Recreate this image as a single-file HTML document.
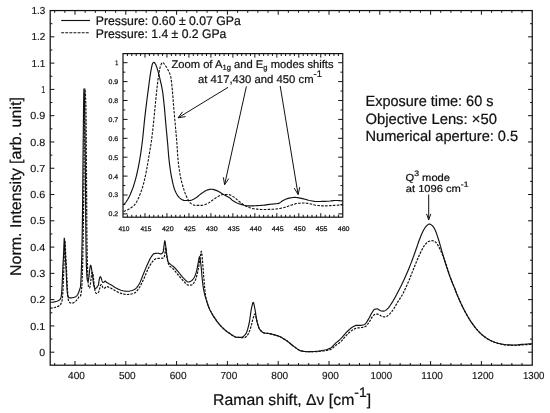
<!DOCTYPE html>
<html lang="en"><head><meta charset="utf-8"><title>Raman spectra</title>
<style>html,body{margin:0;padding:0;background:#fff;overflow:hidden}svg{display:block}svg text{stroke:#111;stroke-width:.22px}svg .il text{stroke-width:.25px}svg .tl text{stroke-width:.15px}</style>
</head><body>
<svg width="550" height="413" viewBox="0 0 550 413" font-family="Liberation Sans, Arial, Helvetica, sans-serif" fill="#111" text-rendering="geometricPrecision">
<rect x="0" y="0" width="550" height="413" fill="#ffffff"/>
<rect x="50.20" y="10.56" width="482.05" height="354.64" fill="none" stroke="#111" stroke-width="1.25"/>
<path d="M54.68,365.2 v-2.2 M54.68,10.56 v2.2 M64.84,365.2 v-2.2 M64.84,10.56 v2.2 M75.00,365.2 v-4.2 M75.00,10.56 v4.2 M85.16,365.2 v-2.2 M85.16,10.56 v2.2 M95.32,365.2 v-2.2 M95.32,10.56 v2.2 M105.48,365.2 v-2.2 M105.48,10.56 v2.2 M115.64,365.2 v-2.2 M115.64,10.56 v2.2 M125.80,365.2 v-4.2 M125.80,10.56 v4.2 M135.96,365.2 v-2.2 M135.96,10.56 v2.2 M146.12,365.2 v-2.2 M146.12,10.56 v2.2 M156.28,365.2 v-2.2 M156.28,10.56 v2.2 M166.44,365.2 v-2.2 M166.44,10.56 v2.2 M176.60,365.2 v-4.2 M176.60,10.56 v4.2 M186.76,365.2 v-2.2 M186.76,10.56 v2.2 M196.92,365.2 v-2.2 M196.92,10.56 v2.2 M207.08,365.2 v-2.2 M207.08,10.56 v2.2 M217.24,365.2 v-2.2 M217.24,10.56 v2.2 M227.40,365.2 v-4.2 M227.40,10.56 v4.2 M237.56,365.2 v-2.2 M237.56,10.56 v2.2 M247.72,365.2 v-2.2 M247.72,10.56 v2.2 M257.88,365.2 v-2.2 M257.88,10.56 v2.2 M268.04,365.2 v-2.2 M268.04,10.56 v2.2 M278.20,365.2 v-4.2 M278.20,10.56 v4.2 M288.36,365.2 v-2.2 M288.36,10.56 v2.2 M298.52,365.2 v-2.2 M298.52,10.56 v2.2 M308.68,365.2 v-2.2 M308.68,10.56 v2.2 M318.84,365.2 v-2.2 M318.84,10.56 v2.2 M329.00,365.2 v-4.2 M329.00,10.56 v4.2 M339.16,365.2 v-2.2 M339.16,10.56 v2.2 M349.32,365.2 v-2.2 M349.32,10.56 v2.2 M359.48,365.2 v-2.2 M359.48,10.56 v2.2 M369.64,365.2 v-2.2 M369.64,10.56 v2.2 M379.80,365.2 v-4.2 M379.80,10.56 v4.2 M389.96,365.2 v-2.2 M389.96,10.56 v2.2 M400.12,365.2 v-2.2 M400.12,10.56 v2.2 M410.28,365.2 v-2.2 M410.28,10.56 v2.2 M420.44,365.2 v-2.2 M420.44,10.56 v2.2 M430.60,365.2 v-4.2 M430.60,10.56 v4.2 M440.76,365.2 v-2.2 M440.76,10.56 v2.2 M450.92,365.2 v-2.2 M450.92,10.56 v2.2 M461.08,365.2 v-2.2 M461.08,10.56 v2.2 M471.24,365.2 v-2.2 M471.24,10.56 v2.2 M481.40,365.2 v-4.2 M481.40,10.56 v4.2 M491.56,365.2 v-2.2 M491.56,10.56 v2.2 M501.72,365.2 v-2.2 M501.72,10.56 v2.2 M511.88,365.2 v-2.2 M511.88,10.56 v2.2 M522.04,365.2 v-2.2 M522.04,10.56 v2.2 M50.20,352.20 h4.2 M532.25,352.20 h-4.2 M50.20,339.06 h2.2 M532.25,339.06 h-2.2 M50.20,325.92 h4.2 M532.25,325.92 h-4.2 M50.20,312.78 h2.2 M532.25,312.78 h-2.2 M50.20,299.64 h4.2 M532.25,299.64 h-4.2 M50.20,286.50 h2.2 M532.25,286.50 h-2.2 M50.20,273.36 h4.2 M532.25,273.36 h-4.2 M50.20,260.22 h2.2 M532.25,260.22 h-2.2 M50.20,247.08 h4.2 M532.25,247.08 h-4.2 M50.20,233.94 h2.2 M532.25,233.94 h-2.2 M50.20,220.80 h4.2 M532.25,220.80 h-4.2 M50.20,207.66 h2.2 M532.25,207.66 h-2.2 M50.20,194.52 h4.2 M532.25,194.52 h-4.2 M50.20,181.38 h2.2 M532.25,181.38 h-2.2 M50.20,168.24 h4.2 M532.25,168.24 h-4.2 M50.20,155.10 h2.2 M532.25,155.10 h-2.2 M50.20,141.96 h4.2 M532.25,141.96 h-4.2 M50.20,128.82 h2.2 M532.25,128.82 h-2.2 M50.20,115.68 h4.2 M532.25,115.68 h-4.2 M50.20,102.54 h2.2 M532.25,102.54 h-2.2 M50.20,89.40 h4.2 M532.25,89.40 h-4.2 M50.20,76.26 h2.2 M532.25,76.26 h-2.2 M50.20,63.12 h4.2 M532.25,63.12 h-4.2 M50.20,49.98 h2.2 M532.25,49.98 h-2.2 M50.20,36.84 h4.2 M532.25,36.84 h-4.2 M50.20,23.70 h2.2 M532.25,23.70 h-2.2" stroke="#111" stroke-width="1" fill="none"/>
<g font-size="10.2" fill="#111" class="tl">
<text x="76.50" y="379.0" text-anchor="middle" textLength="16.8" lengthAdjust="spacingAndGlyphs">400</text>
<text x="127.30" y="379.0" text-anchor="middle" textLength="16.8" lengthAdjust="spacingAndGlyphs">500</text>
<text x="178.10" y="379.0" text-anchor="middle" textLength="16.8" lengthAdjust="spacingAndGlyphs">600</text>
<text x="228.90" y="379.0" text-anchor="middle" textLength="16.8" lengthAdjust="spacingAndGlyphs">700</text>
<text x="279.70" y="379.0" text-anchor="middle" textLength="16.8" lengthAdjust="spacingAndGlyphs">800</text>
<text x="330.50" y="379.0" text-anchor="middle" textLength="16.8" lengthAdjust="spacingAndGlyphs">900</text>
<text x="381.30" y="379.0" text-anchor="middle" textLength="21.6" lengthAdjust="spacingAndGlyphs">1000</text>
<text x="432.10" y="379.0" text-anchor="middle" textLength="21.6" lengthAdjust="spacingAndGlyphs">1100</text>
<text x="482.90" y="379.0" text-anchor="middle" textLength="21.6" lengthAdjust="spacingAndGlyphs">1200</text>
<text x="533.70" y="379.0" text-anchor="middle" textLength="21.6" lengthAdjust="spacingAndGlyphs">1300</text>
<text x="45.2" y="355.80" text-anchor="end" textLength="5.9" lengthAdjust="spacingAndGlyphs">0</text>
<text x="45.2" y="329.52" text-anchor="end" textLength="15.0" lengthAdjust="spacingAndGlyphs">0.1</text>
<text x="45.2" y="303.24" text-anchor="end" textLength="15.0" lengthAdjust="spacingAndGlyphs">0.2</text>
<text x="45.2" y="276.96" text-anchor="end" textLength="15.0" lengthAdjust="spacingAndGlyphs">0.3</text>
<text x="45.2" y="250.68" text-anchor="end" textLength="15.0" lengthAdjust="spacingAndGlyphs">0.4</text>
<text x="45.2" y="224.40" text-anchor="end" textLength="15.0" lengthAdjust="spacingAndGlyphs">0.5</text>
<text x="45.2" y="198.12" text-anchor="end" textLength="15.0" lengthAdjust="spacingAndGlyphs">0.6</text>
<text x="45.2" y="171.84" text-anchor="end" textLength="15.0" lengthAdjust="spacingAndGlyphs">0.7</text>
<text x="45.2" y="145.56" text-anchor="end" textLength="15.0" lengthAdjust="spacingAndGlyphs">0.8</text>
<text x="45.2" y="119.28" text-anchor="end" textLength="15.0" lengthAdjust="spacingAndGlyphs">0.9</text>
<text x="45.2" y="93.00" text-anchor="end" textLength="4.0" lengthAdjust="spacingAndGlyphs">1</text>
<text x="45.2" y="66.72" text-anchor="end" textLength="13.8" lengthAdjust="spacingAndGlyphs">1.1</text>
<text x="45.2" y="40.44" text-anchor="end" textLength="13.8" lengthAdjust="spacingAndGlyphs">1.2</text>
<text x="45.2" y="14.16" text-anchor="end" textLength="13.8" lengthAdjust="spacingAndGlyphs">1.3</text>
</g>
<text x="292.1" y="405.1" font-size="15.6" text-anchor="middle" textLength="158" lengthAdjust="spacingAndGlyphs">Raman shift, Δν [cm<tspan font-size="13.8" dy="-8.0">-1</tspan><tspan dy="8.0">]</tspan></text>
<text transform="translate(20.8,186.6) rotate(-90)" font-size="15.6" text-anchor="middle" textLength="179" lengthAdjust="spacingAndGlyphs">Norm. Intensity [arb. unit]</text>
<path d="M50.20,302.30 L51.52,302.25 L52.83,302.12 L54.15,301.90 L55.47,301.61 L56.78,301.24 L58.10,300.80 L58.52,300.62 L58.93,300.37 L59.35,300.04 L59.77,299.61 L60.18,299.07 L60.60,298.40 L60.77,298.02 L60.93,297.46 L61.10,296.73 L61.27,295.83 L61.43,294.75 L61.60,293.50 L61.70,292.45 L61.80,290.96 L61.90,289.17 L62.00,287.16 L62.10,285.07 L62.20,283.00 L62.30,280.82 L62.40,278.39 L62.50,275.85 L62.60,273.29 L62.70,270.83 L62.80,268.60 L62.93,265.96 L63.07,263.54 L63.20,261.24 L63.33,258.95 L63.47,256.57 L63.60,254.00 L63.72,251.19 L63.83,247.81 L63.95,244.33 L64.07,241.25 L64.18,239.04 L64.30,238.20 L64.45,239.00 L64.60,241.10 L64.75,244.09 L64.90,247.52 L65.05,250.96 L65.20,254.00 L65.33,256.38 L65.47,258.76 L65.60,261.15 L65.73,263.58 L65.87,266.06 L66.00,268.60 L66.12,270.95 L66.23,273.42 L66.35,275.93 L66.47,278.42 L66.58,280.80 L66.70,283.00 L66.80,284.84 L66.90,286.73 L67.00,288.55 L67.10,290.19 L67.20,291.54 L67.30,292.50 L67.47,293.64 L67.63,294.63 L67.80,295.46 L67.97,296.13 L68.13,296.61 L68.30,296.90 L68.58,297.19 L68.87,297.44 L69.15,297.64 L69.43,297.78 L69.72,297.87 L70.00,297.90 L70.68,297.88 L71.37,297.82 L72.05,297.72 L72.73,297.60 L73.42,297.46 L74.10,297.30 L74.58,297.16 L75.07,296.96 L75.55,296.71 L76.03,296.40 L76.52,296.03 L77.00,295.60 L77.30,295.24 L77.60,294.75 L77.90,294.16 L78.20,293.48 L78.50,292.76 L78.80,292.00 L80.48,287.13 L80.56,286.17 L80.65,285.06 L80.73,283.80 L80.81,282.42 L80.90,280.93 L80.98,279.34 L81.07,277.35 L81.17,275.13 L81.26,272.67 L81.36,270.02 L81.45,267.18 L81.55,264.18 L81.62,261.83 L81.69,259.30 L81.76,256.58 L81.83,253.68 L81.89,250.61 L81.96,247.36 L82.04,243.79 L82.11,239.96 L82.18,235.86 L82.25,231.48 L82.32,226.83 L82.39,221.91 L82.44,218.52 L82.49,214.90 L82.53,211.06 L82.58,207.00 L82.63,202.74 L82.67,198.27 L82.72,193.38 L82.76,187.98 L82.81,182.29 L82.86,176.53 L82.90,170.94 L82.95,165.74 L83.02,158.48 L83.09,151.48 L83.16,144.72 L83.23,138.14 L83.30,131.72 L83.37,125.41 L83.41,121.18 L83.46,116.91 L83.51,112.72 L83.55,108.72 L83.60,105.03 L83.65,101.78 L83.68,99.48 L83.72,97.20 L83.75,95.05 L83.79,93.15 L83.82,91.65 L83.86,90.65 L83.88,90.19 L83.90,89.77 L83.92,89.40 L83.95,89.11 L83.97,88.91 L83.99,88.84 L84.03,88.94 L84.06,89.21 L84.09,89.61 L84.12,90.11 L84.15,90.65 L84.18,91.21 L84.23,92.35 L84.28,93.85 L84.34,95.63 L84.39,97.60 L84.44,99.67 L84.49,101.78 L84.54,103.72 L84.59,105.83 L84.63,108.06 L84.68,110.40 L84.72,112.81 L84.77,115.26 L84.81,117.28 L84.85,119.30 L84.89,121.38 L84.93,123.60 L84.96,126.03 L85.00,128.75 L85.04,131.41 L85.07,134.45 L85.10,137.79 L85.13,141.36 L85.17,145.09 L85.20,148.91 L85.23,152.98 L85.27,157.40 L85.30,162.03 L85.33,166.75 L85.36,171.41 L85.40,175.89 L85.43,180.15 L85.46,184.31 L85.50,188.43 L85.53,192.55 L85.56,196.74 L85.59,201.06 L85.62,204.86 L85.65,208.89 L85.68,212.99 L85.70,216.96 L85.73,220.65 L85.76,223.86 L85.80,228.68 L85.85,233.13 L85.90,237.22 L85.94,240.95 L85.99,244.33 L86.04,247.36 L86.11,251.65 L86.18,255.65 L86.25,259.31 L86.32,262.55 L86.39,265.31 L86.46,267.52 L86.56,269.88 L86.65,271.99 L86.74,273.83 L86.84,275.40 L86.93,276.68 L87.02,277.67 L87.11,278.50 L87.21,279.28 L87.30,279.97 L87.39,280.51 L87.49,280.88 L87.58,281.01 L87.67,281.01 L87.77,281.01 L87.86,281.01 L87.96,281.01 L88.05,281.01 L88.15,281.01 L88.24,280.91 L88.33,280.63 L88.42,280.22 L88.52,279.72 L88.61,279.18 L88.70,278.64 L88.84,277.68 L88.99,276.44 L89.13,275.04 L89.27,273.59 L89.41,272.21 L89.55,271.00 L89.67,270.08 L89.78,269.14 L89.90,268.25 L90.01,267.43 L90.13,266.76 L90.25,266.27 L90.32,266.03 L90.39,265.81 L90.46,265.61 L90.53,265.44 L90.60,265.33 L90.67,265.30 L90.77,265.37 L90.86,265.56 L90.95,265.85 L91.05,266.20 L91.14,266.58 L91.23,266.96 L91.37,267.65 L91.51,268.53 L91.65,269.53 L91.80,270.60 L91.94,271.67 L92.08,272.66 L92.20,273.47 L92.33,274.23 L92.46,274.99 L92.58,275.79 L92.71,276.67 L92.83,277.67 L92.88,278.10 L92.92,278.60 L92.97,279.14 L93.01,279.68 L93.05,280.17 L93.10,280.59 L93.24,281.70 L93.38,282.73 L93.52,283.65 L93.66,284.47 L93.79,285.17 L93.93,285.74 L94.12,286.41 L94.31,287.06 L94.50,287.63 L94.68,288.10 L94.87,288.40 L95.06,288.52 L95.29,288.49 L95.53,288.41 L95.76,288.30 L95.99,288.16 L96.23,288.00 L96.46,287.82 L96.65,287.64 L96.84,287.38 L97.02,287.08 L97.21,286.75 L97.40,286.44 L97.59,286.15 L97.73,285.98 L97.87,285.84 L98.01,285.70 L98.15,285.53 L98.29,285.32 L98.43,285.04 L98.53,284.67 L98.62,284.04 L98.71,283.26 L98.81,282.43 L98.90,281.65 L98.99,281.01 L99.11,280.32 L99.23,279.65 L99.34,279.02 L99.46,278.46 L99.58,278.00 L99.70,277.67 L99.81,277.42 L99.93,277.20 L100.05,277.00 L100.16,276.84 L100.28,276.73 L100.39,276.70 L100.54,276.77 L100.68,276.98 L100.82,277.27 L100.96,277.63 L101.10,278.00 L101.24,278.37 L101.38,278.75 L101.52,279.22 L101.66,279.71 L101.80,280.21 L101.94,280.65 L102.08,281.01 L102.22,281.32 L102.36,281.64 L102.50,281.93 L102.64,282.17 L102.78,282.34 L102.92,282.40 L103.11,282.39 L103.30,282.36 L103.48,282.31 L103.67,282.26 L103.86,282.19 L104.05,282.12 L104.23,281.99 L104.42,281.77 L104.61,281.51 L104.80,281.26 L104.99,281.08 L105.17,281.01 L105.30,281.03 L105.42,281.09 L105.55,281.20 L105.68,281.33 L105.80,281.50 L105.93,281.70 L106.50,282.20 L106.83,282.43 L107.17,282.66 L107.50,282.88 L107.83,283.09 L108.17,283.30 L108.50,283.50 L108.97,283.76 L109.43,284.01 L109.90,284.25 L110.37,284.49 L110.83,284.74 L111.30,285.00 L111.88,285.36 L112.47,285.75 L113.05,286.15 L113.63,286.56 L114.22,286.94 L114.80,287.30 L115.42,287.65 L116.03,287.99 L116.65,288.31 L117.27,288.62 L117.88,288.92 L118.50,289.20 L118.92,289.39 L119.33,289.58 L119.75,289.76 L120.17,289.93 L120.58,290.08 L121.00,290.20 L122.05,290.47 L123.10,290.73 L124.15,290.95 L125.20,291.14 L126.25,291.26 L127.30,291.30 L128.50,291.24 L129.70,291.06 L130.90,290.79 L132.10,290.43 L133.30,289.99 L134.50,289.50 L135.23,289.06 L135.97,288.42 L136.70,287.60 L137.43,286.65 L138.17,285.60 L138.90,284.50 L139.63,283.21 L140.37,281.63 L141.10,279.85 L141.83,277.98 L142.57,276.09 L143.30,274.30 L144.02,272.59 L144.73,270.85 L145.45,269.09 L146.17,267.37 L146.88,265.69 L147.60,264.10 L148.22,262.76 L148.83,261.41 L149.45,260.10 L150.07,258.87 L150.68,257.76 L151.30,256.80 L151.78,256.11 L152.27,255.41 L152.75,254.77 L153.23,254.22 L153.72,253.81 L154.20,253.60 L154.80,253.48 L155.40,253.39 L156.00,253.31 L156.60,253.25 L157.20,253.21 L157.80,253.20 L158.28,253.25 L158.77,253.38 L159.25,253.55 L159.73,253.72 L160.22,253.85 L160.70,253.90 L161.07,253.86 L161.43,253.74 L161.80,253.54 L162.17,253.27 L162.53,252.92 L162.90,252.50 L163.10,251.96 L163.30,250.94 L163.50,249.59 L163.70,248.08 L163.90,246.57 L164.10,245.20 L164.22,244.37 L164.33,243.42 L164.45,242.46 L164.57,241.62 L164.68,241.03 L164.80,240.80 L164.93,241.00 L165.07,241.54 L165.20,242.33 L165.33,243.27 L165.47,244.26 L165.60,245.20 L165.77,246.47 L165.93,247.97 L166.10,249.57 L166.27,251.18 L166.43,252.66 L166.60,253.90 L166.87,255.63 L167.13,257.30 L167.40,258.84 L167.67,260.18 L167.93,261.22 L168.20,261.90 L168.65,262.60 L169.10,263.13 L169.55,263.54 L170.00,263.89 L170.45,264.23 L170.90,264.60 L171.50,265.11 L172.10,265.58 L172.70,266.03 L173.30,266.48 L173.90,266.97 L174.50,267.50 L175.35,268.37 L176.20,269.33 L177.05,270.36 L177.90,271.42 L178.75,272.48 L179.60,273.50 L180.33,274.38 L181.07,275.28 L181.80,276.18 L182.53,277.05 L183.27,277.87 L184.00,278.60 L184.73,279.32 L185.47,280.09 L186.20,280.81 L186.93,281.42 L187.67,281.84 L188.40,282.00 L188.75,281.97 L189.10,281.89 L189.45,281.77 L189.80,281.63 L190.15,281.47 L190.50,281.30 L191.02,281.02 L191.53,280.66 L192.05,280.23 L192.57,279.73 L193.08,279.15 L193.60,278.50 L194.08,277.75 L194.57,276.79 L195.05,275.65 L195.53,274.34 L196.02,272.88 L196.50,271.30 L196.82,270.06 L197.13,268.56 L197.45,266.88 L197.77,265.13 L198.08,263.41 L198.40,261.80 L198.58,260.81 L198.77,259.70 L198.95,258.59 L199.13,257.63 L199.32,256.96 L199.50,256.70 L199.73,257.05 L199.97,258.00 L200.20,259.40 L200.43,261.09 L200.67,262.91 L200.90,264.70 L201.15,266.88 L201.40,269.55 L201.65,272.49 L201.90,275.48 L202.15,278.29 L202.40,280.70 L202.62,282.51 L202.83,284.25 L203.05,285.89 L203.27,287.40 L203.48,288.78 L203.70,290.00 L204.07,291.80 L204.43,293.41 L204.80,294.87 L205.17,296.21 L205.53,297.47 L205.90,298.70 L206.50,300.67 L207.10,302.54 L207.70,304.32 L208.30,305.98 L208.90,307.51 L209.50,308.90 L210.48,310.96 L211.47,312.83 L212.45,314.56 L213.43,316.16 L214.42,317.67 L215.40,319.10 L216.60,320.78 L217.80,322.37 L219.00,323.87 L220.20,325.28 L221.40,326.59 L222.60,327.80 L223.82,328.94 L225.03,330.01 L226.25,331.01 L227.47,331.95 L228.68,332.81 L229.90,333.60 L231.12,334.40 L232.33,335.23 L233.55,336.01 L234.77,336.68 L235.98,337.13 L237.20,337.30 L237.92,337.30 L238.63,337.30 L239.35,337.30 L240.07,337.30 L240.78,337.30 L241.50,337.30 L242.23,337.17 L242.97,336.79 L243.70,336.20 L244.43,335.45 L245.17,334.57 L245.90,333.60 L246.43,332.66 L246.97,331.35 L247.50,329.72 L248.03,327.83 L248.57,325.74 L249.10,323.50 L249.48,321.52 L249.87,319.03 L250.25,316.27 L250.63,313.50 L251.02,310.96 L251.40,308.90 L251.70,307.47 L252.00,306.00 L252.30,304.63 L252.60,303.48 L252.90,302.69 L253.20,302.40 L253.48,302.70 L253.77,303.50 L254.05,304.66 L254.33,306.04 L254.62,307.50 L254.90,308.90 L255.22,310.61 L255.53,312.64 L255.85,314.83 L256.17,316.98 L256.48,318.93 L256.80,320.50 L257.28,322.46 L257.77,324.28 L258.25,325.92 L258.73,327.33 L259.22,328.48 L259.70,329.30 L260.43,330.23 L261.17,331.03 L261.90,331.71 L262.63,332.25 L263.37,332.65 L264.10,332.90 L264.95,333.07 L265.80,333.20 L266.65,333.29 L267.50,333.38 L268.35,333.47 L269.20,333.60 L269.72,333.70 L270.23,333.80 L270.75,333.92 L271.27,334.04 L271.78,334.17 L272.30,334.30 L273.50,334.61 L274.70,334.93 L275.90,335.27 L277.10,335.64 L278.30,336.04 L279.50,336.50 L280.72,337.04 L281.93,337.68 L283.15,338.40 L284.37,339.17 L285.58,339.98 L286.80,340.80 L288.02,341.69 L289.23,342.66 L290.45,343.69 L291.67,344.72 L292.88,345.71 L294.10,346.60 L295.32,347.48 L296.53,348.39 L297.75,349.27 L298.97,350.05 L300.18,350.65 L301.40,351.00 L302.60,351.19 L303.80,351.36 L305.00,351.50 L306.20,351.61 L307.40,351.68 L308.60,351.70 L309.82,351.69 L311.03,351.66 L312.25,351.61 L313.47,351.55 L314.68,351.48 L315.90,351.40 L317.12,351.30 L318.33,351.15 L319.55,350.97 L320.77,350.77 L321.98,350.54 L323.20,350.30 L324.42,350.05 L325.63,349.77 L326.85,349.45 L328.07,349.08 L329.28,348.63 L330.50,348.10 L331.25,347.63 L332.00,346.97 L332.75,346.20 L333.50,345.37 L334.25,344.55 L335.00,343.80 L335.97,342.94 L336.93,342.11 L337.90,341.30 L338.87,340.47 L339.83,339.62 L340.80,338.70 L341.77,337.69 L342.73,336.59 L343.70,335.44 L344.67,334.30 L345.63,333.20 L346.60,332.20 L347.58,331.23 L348.57,330.27 L349.55,329.34 L350.53,328.48 L351.52,327.72 L352.50,327.10 L353.22,326.69 L353.93,326.28 L354.65,325.90 L355.37,325.59 L356.08,325.38 L356.80,325.30 L357.53,325.30 L358.27,325.30 L359.00,325.30 L359.73,325.30 L360.47,325.30 L361.20,325.30 L361.80,325.26 L362.40,325.15 L363.00,324.97 L363.60,324.75 L364.20,324.49 L364.80,324.20 L365.42,323.74 L366.03,323.04 L366.65,322.15 L367.27,321.15 L367.88,320.11 L368.50,319.10 L369.10,318.08 L369.70,316.95 L370.30,315.76 L370.90,314.59 L371.50,313.48 L372.10,312.50 L372.52,311.85 L372.93,311.17 L373.35,310.52 L373.77,309.96 L374.18,309.53 L374.60,309.30 L375.03,309.19 L375.47,309.09 L375.90,309.01 L376.33,308.95 L376.77,308.91 L377.20,308.90 L377.80,309.03 L378.40,309.35 L379.00,309.77 L379.60,310.22 L380.20,310.59 L380.80,310.80 L381.28,310.88 L381.77,310.95 L382.25,311.01 L382.73,311.06 L383.22,311.09 L383.70,311.10 L384.32,311.01 L384.93,310.75 L385.55,310.38 L386.17,309.92 L386.78,309.41 L387.40,308.90 L388.12,308.21 L388.83,307.36 L389.55,306.38 L390.27,305.31 L390.98,304.20 L391.70,303.10 L392.50,301.84 L393.30,300.50 L394.10,299.10 L394.90,297.66 L395.70,296.18 L396.50,294.70 L397.67,292.51 L398.83,290.28 L400.00,287.99 L401.17,285.65 L402.33,283.26 L403.50,280.80 L404.48,278.68 L405.47,276.52 L406.45,274.30 L407.43,272.02 L408.42,269.69 L409.40,267.30 L410.37,264.87 L411.33,262.35 L412.30,259.76 L413.27,257.12 L414.23,254.47 L415.20,251.80 L416.00,249.54 L416.80,247.20 L417.60,244.84 L418.40,242.51 L419.20,240.28 L420.00,238.20 L420.65,236.58 L421.30,234.99 L421.95,233.45 L422.60,232.00 L423.25,230.67 L423.90,229.50 L424.38,228.71 L424.87,227.95 L425.35,227.25 L425.83,226.61 L426.32,226.05 L426.80,225.60 L427.22,225.25 L427.63,224.91 L428.05,224.59 L428.47,224.34 L428.88,224.16 L429.30,224.10 L429.78,224.16 L430.27,224.32 L430.75,224.57 L431.23,224.88 L431.72,225.23 L432.20,225.60 L432.65,226.01 L433.10,226.54 L433.55,227.18 L434.00,227.89 L434.45,228.67 L434.90,229.50 L435.48,230.73 L436.07,232.19 L436.65,233.83 L437.23,235.58 L437.82,237.39 L438.40,239.20 L439.05,241.28 L439.70,243.50 L440.35,245.80 L441.00,248.13 L441.65,250.45 L442.30,252.70 L442.93,254.85 L443.57,256.99 L444.20,259.12 L444.83,261.22 L445.47,263.29 L446.10,265.30 L446.75,267.33 L447.40,269.34 L448.05,271.31 L448.70,273.23 L449.35,275.10 L450.00,276.90 L450.65,278.62 L451.30,280.26 L451.95,281.86 L452.60,283.43 L453.25,285.01 L453.90,286.60 L454.67,288.52 L455.43,290.47 L456.20,292.42 L456.97,294.34 L457.73,296.21 L458.50,298.00 L459.63,300.54 L460.77,303.02 L461.90,305.42 L463.03,307.74 L464.17,309.97 L465.30,312.10 L466.42,314.12 L467.53,316.07 L468.65,317.95 L469.77,319.75 L470.88,321.47 L472.00,323.10 L473.13,324.69 L474.27,326.22 L475.40,327.69 L476.53,329.08 L477.67,330.39 L478.80,331.60 L479.93,332.74 L481.07,333.82 L482.20,334.84 L483.33,335.80 L484.47,336.69 L485.60,337.50 L486.73,338.25 L487.87,338.96 L489.00,339.63 L490.13,340.24 L491.27,340.80 L492.40,341.30 L493.53,341.75 L494.67,342.17 L495.80,342.55 L496.93,342.90 L498.07,343.22 L499.20,343.50 L500.32,343.76 L501.43,344.01 L502.55,344.24 L503.67,344.44 L504.78,344.60 L505.90,344.70 L507.32,344.78 L508.73,344.85 L510.15,344.91 L511.57,344.96 L512.98,344.99 L514.40,345.00 L515.82,344.96 L517.23,344.86 L518.65,344.72 L520.07,344.56 L521.48,344.42 L522.90,344.30 L524.46,344.20 L526.02,344.11 L527.58,344.02 L529.13,343.94 L530.69,343.86 L532.25,343.80" fill="none" stroke="#111" stroke-width="1.15" stroke-linejoin="round"/>
<path d="M50.20,308.10 L51.75,308.03 L53.30,307.83 L54.85,307.48 L56.40,307.00 L57.95,306.37 L59.50,305.60 L59.88,305.33 L60.27,304.92 L60.65,304.35 L61.03,303.62 L61.42,302.71 L61.80,301.60 L61.97,300.89 L62.13,299.84 L62.30,298.49 L62.47,296.87 L62.63,295.03 L62.80,293.00 L62.93,290.97 L63.07,288.36 L63.20,285.31 L63.33,281.97 L63.47,278.49 L63.60,275.00 L63.72,271.76 L63.83,268.19 L63.95,264.46 L64.07,260.73 L64.18,257.19 L64.30,254.00 L64.40,251.27 L64.50,248.33 L64.60,245.50 L64.70,243.10 L64.80,241.43 L64.90,240.80 L65.03,241.45 L65.17,243.18 L65.30,245.64 L65.43,248.50 L65.57,251.40 L65.70,254.00 L65.83,256.37 L65.97,258.78 L66.10,261.25 L66.23,263.78 L66.37,266.36 L66.50,269.00 L66.62,271.43 L66.73,273.98 L66.85,276.59 L66.97,279.17 L67.08,281.67 L67.20,284.00 L67.32,286.29 L67.43,288.62 L67.55,290.89 L67.67,292.95 L67.78,294.70 L67.90,296.00 L68.07,297.44 L68.23,298.75 L68.40,299.89 L68.57,300.81 L68.73,301.46 L68.90,301.80 L69.40,302.25 L69.90,302.61 L70.40,302.88 L70.90,303.06 L71.40,303.17 L71.90,303.20 L72.47,303.13 L73.03,302.94 L73.60,302.65 L74.17,302.30 L74.73,301.91 L75.30,301.50 L75.67,301.20 L76.03,300.83 L76.40,300.42 L76.77,299.96 L77.13,299.49 L77.50,299.00 L77.72,298.70 L77.93,298.39 L78.15,298.06 L78.37,297.72 L78.58,297.36 L78.80,297.00 L80.48,296.16 L80.59,295.79 L80.70,295.33 L80.80,294.79 L80.91,294.19 L81.02,293.53 L81.13,292.83 L81.25,292.02 L81.36,291.12 L81.48,290.12 L81.59,288.97 L81.71,287.66 L81.83,286.15 L81.92,284.62 L82.01,282.71 L82.11,280.48 L82.20,278.02 L82.30,275.39 L82.39,272.66 L82.46,270.57 L82.53,268.31 L82.60,265.88 L82.67,263.28 L82.74,260.49 L82.81,257.51 L82.88,254.24 L82.95,250.63 L83.02,246.73 L83.09,242.59 L83.16,238.29 L83.23,233.87 L83.28,230.78 L83.32,227.48 L83.37,224.06 L83.41,220.58 L83.46,217.10 L83.51,213.71 L83.54,211.41 L83.57,209.19 L83.61,206.98 L83.64,204.70 L83.67,202.29 L83.70,199.66 L83.74,196.25 L83.78,192.53 L83.82,188.56 L83.86,184.42 L83.90,180.17 L83.94,175.89 L83.98,170.57 L84.03,164.96 L84.08,159.20 L84.12,153.41 L84.17,147.71 L84.21,142.24 L84.26,136.82 L84.31,131.32 L84.35,125.91 L84.40,120.76 L84.45,116.04 L84.49,111.93 L84.54,108.19 L84.59,104.59 L84.63,101.25 L84.68,98.28 L84.72,95.82 L84.77,93.99 L84.81,92.76 L84.85,91.60 L84.89,90.56 L84.93,89.73 L84.96,89.18 L85.00,88.98 L85.06,89.19 L85.12,89.74 L85.17,90.54 L85.23,91.49 L85.28,92.48 L85.34,93.43 L85.40,94.36 L85.45,95.35 L85.51,96.42 L85.56,97.57 L85.62,98.79 L85.68,100.11 L85.72,101.20 L85.77,102.31 L85.82,103.51 L85.86,104.90 L85.91,106.56 L85.95,108.59 L85.98,110.34 L86.01,112.70 L86.04,115.53 L86.07,118.69 L86.10,122.03 L86.13,125.41 L86.16,129.30 L86.19,133.66 L86.22,138.33 L86.25,143.12 L86.28,147.87 L86.31,152.39 L86.35,156.97 L86.38,161.47 L86.41,165.93 L86.45,170.35 L86.48,174.78 L86.51,179.22 L86.54,182.58 L86.56,185.85 L86.59,189.13 L86.61,192.47 L86.64,195.96 L86.66,199.66 L86.69,203.53 L86.71,207.86 L86.73,212.36 L86.75,216.72 L86.78,220.65 L86.80,223.86 L86.85,229.01 L86.89,233.57 L86.94,237.60 L86.99,241.19 L87.03,244.42 L87.08,247.36 L87.14,250.83 L87.20,253.96 L87.26,256.81 L87.32,259.43 L87.38,261.87 L87.44,264.18 L87.51,266.84 L87.58,269.37 L87.65,271.74 L87.72,273.94 L87.80,275.93 L87.87,277.67 L87.94,279.23 L88.01,280.73 L88.08,282.12 L88.15,283.33 L88.22,284.33 L88.29,285.04 L88.38,285.76 L88.47,286.42 L88.56,286.99 L88.66,287.43 L88.75,287.72 L88.84,287.82 L88.96,287.82 L89.08,287.82 L89.20,287.82 L89.31,287.82 L89.43,287.82 L89.55,287.82 L89.67,287.70 L89.78,287.38 L89.90,286.89 L90.01,286.31 L90.13,285.68 L90.25,285.04 L90.36,284.31 L90.48,283.42 L90.60,282.42 L90.72,281.36 L90.84,280.32 L90.95,279.34 L91.05,278.58 L91.14,277.79 L91.23,277.01 L91.32,276.27 L91.42,275.60 L91.51,275.03 L91.60,274.50 L91.70,273.96 L91.79,273.46 L91.89,273.05 L91.98,272.77 L92.08,272.66 L92.17,272.66 L92.26,272.66 L92.36,272.66 L92.45,272.66 L92.54,272.66 L92.63,272.66 L92.74,272.81 L92.84,273.22 L92.94,273.81 L93.04,274.51 L93.14,275.27 L93.24,276.00 L93.35,276.92 L93.47,278.00 L93.59,279.18 L93.70,280.40 L93.82,281.59 L93.93,282.68 L94.07,283.94 L94.22,285.23 L94.36,286.48 L94.50,287.65 L94.64,288.67 L94.78,289.49 L94.92,290.18 L95.06,290.82 L95.20,291.39 L95.34,291.89 L95.49,292.28 L95.63,292.55 L95.81,292.81 L96.00,293.04 L96.18,293.24 L96.37,293.39 L96.56,293.49 L96.74,293.52 L96.93,293.51 L97.12,293.46 L97.30,293.40 L97.49,293.31 L97.68,293.22 L97.87,293.10 L98.05,292.94 L98.24,292.70 L98.43,292.39 L98.62,292.02 L98.80,291.61 L98.99,291.16 L99.13,290.74 L99.27,290.21 L99.41,289.61 L99.56,288.99 L99.70,288.37 L99.84,287.82 L99.98,287.29 L100.12,286.73 L100.25,286.18 L100.39,285.69 L100.53,285.30 L100.67,285.04 L100.79,284.90 L100.91,284.76 L101.03,284.65 L101.14,284.56 L101.26,284.50 L101.38,284.48 L101.50,284.53 L101.61,284.64 L101.73,284.81 L101.84,285.01 L101.96,285.24 L102.08,285.46 L102.22,285.79 L102.36,286.22 L102.50,286.70 L102.64,287.16 L102.78,287.56 L102.92,287.82 L103.06,288.00 L103.20,288.16 L103.35,288.30 L103.49,288.42 L103.63,288.49 L103.77,288.52 L103.96,288.48 L104.14,288.39 L104.33,288.26 L104.52,288.11 L104.71,287.96 L104.89,287.82 L105.07,287.71 L105.24,287.60 L105.41,287.48 L105.58,287.36 L105.75,287.25 L105.93,287.13 L106.90,286.50 L107.28,286.64 L107.67,286.78 L108.05,286.93 L108.43,287.08 L108.82,287.24 L109.20,287.40 L109.55,287.55 L109.90,287.71 L110.25,287.88 L110.60,288.05 L110.95,288.22 L111.30,288.40 L111.88,288.71 L112.47,289.04 L113.05,289.38 L113.63,289.73 L114.22,290.07 L114.80,290.40 L115.42,290.75 L116.03,291.11 L116.65,291.46 L117.27,291.80 L117.88,292.12 L118.50,292.40 L118.92,292.58 L119.33,292.74 L119.75,292.90 L120.17,293.05 L120.58,293.18 L121.00,293.30 L122.05,293.58 L123.10,293.85 L124.15,294.11 L125.20,294.31 L126.25,294.45 L127.30,294.50 L128.50,294.45 L129.70,294.31 L130.90,294.08 L132.10,293.78 L133.30,293.42 L134.50,293.00 L135.23,292.60 L135.97,291.99 L136.70,291.20 L137.43,290.29 L138.17,289.31 L138.90,288.30 L139.38,287.58 L139.87,286.75 L140.35,285.85 L140.83,284.91 L141.32,283.95 L141.80,283.00 L142.17,282.28 L142.53,281.55 L142.90,280.81 L143.27,280.05 L143.63,279.28 L144.00,278.50 L144.73,276.84 L145.47,275.07 L146.20,273.26 L146.93,271.48 L147.67,269.80 L148.40,268.30 L149.12,266.95 L149.83,265.63 L150.55,264.38 L151.27,263.23 L151.98,262.23 L152.70,261.40 L153.32,260.77 L153.93,260.15 L154.55,259.59 L155.17,259.12 L155.78,258.78 L156.40,258.60 L157.08,258.52 L157.77,258.47 L158.45,258.42 L159.13,258.39 L159.82,258.35 L160.50,258.30 L161.02,258.26 L161.53,258.23 L162.05,258.20 L162.57,258.16 L163.08,258.09 L163.60,258.00 L163.80,257.83 L164.00,257.44 L164.20,256.87 L164.40,256.16 L164.60,255.36 L164.80,254.50 L164.95,253.53 L165.10,252.11 L165.25,250.51 L165.40,249.03 L165.55,247.93 L165.70,247.50 L165.85,247.88 L166.00,248.86 L166.15,250.24 L166.30,251.78 L166.45,253.27 L166.60,254.50 L166.77,255.63 L166.93,256.75 L167.10,257.83 L167.27,258.83 L167.43,259.73 L167.60,260.50 L167.87,261.58 L168.13,262.58 L168.40,263.49 L168.67,264.28 L168.93,264.92 L169.20,265.40 L169.73,266.07 L170.27,266.58 L170.80,266.98 L171.33,267.35 L171.87,267.73 L172.40,268.20 L173.37,269.21 L174.33,270.32 L175.30,271.49 L176.27,272.68 L177.23,273.86 L178.20,275.00 L179.17,276.12 L180.13,277.26 L181.10,278.39 L182.07,279.49 L183.03,280.53 L184.00,281.50 L184.73,282.26 L185.47,283.08 L186.20,283.88 L186.93,284.55 L187.67,285.02 L188.40,285.20 L188.92,285.19 L189.43,285.18 L189.95,285.15 L190.47,285.11 L190.98,285.06 L191.50,285.00 L192.10,284.78 L192.70,284.31 L193.30,283.61 L193.90,282.75 L194.50,281.76 L195.10,280.70 L195.58,279.63 L196.07,278.23 L196.55,276.56 L197.03,274.67 L197.52,272.63 L198.00,270.50 L198.37,268.69 L198.73,266.61 L199.10,264.36 L199.47,262.02 L199.83,259.70 L200.20,257.50 L200.38,256.31 L200.57,254.95 L200.75,253.61 L200.93,252.44 L201.12,251.61 L201.30,251.30 L201.55,251.92 L201.80,253.58 L202.05,255.98 L202.30,258.84 L202.55,261.84 L202.80,264.70 L202.97,266.65 L203.13,268.84 L203.30,271.16 L203.47,273.50 L203.63,275.75 L203.80,277.80 L204.12,281.48 L204.43,285.16 L204.75,288.68 L205.07,291.88 L205.38,294.61 L205.70,296.70 L206.00,298.21 L206.30,299.50 L206.60,300.62 L206.90,301.62 L207.20,302.57 L207.50,303.50 L207.83,304.53 L208.17,305.51 L208.50,306.44 L208.83,307.32 L209.17,308.14 L209.50,308.90 L210.48,310.95 L211.47,312.83 L212.45,314.56 L213.43,316.16 L214.42,317.67 L215.40,319.10 L216.60,320.78 L217.80,322.37 L219.00,323.87 L220.20,325.28 L221.40,326.59 L222.60,327.80 L223.82,328.93 L225.03,330.00 L226.25,331.00 L227.47,331.93 L228.68,332.80 L229.90,333.60 L231.12,334.40 L232.33,335.24 L233.55,336.03 L234.77,336.70 L235.98,337.18 L237.20,337.40 L238.42,337.46 L239.63,337.51 L240.85,337.55 L242.07,337.58 L243.28,337.59 L244.50,337.60 L245.10,337.46 L245.70,337.09 L246.30,336.53 L246.90,335.83 L247.50,335.04 L248.10,334.20 L248.58,333.39 L249.07,332.36 L249.55,331.13 L250.03,329.77 L250.52,328.31 L251.00,326.80 L251.37,325.50 L251.73,323.97 L252.10,322.34 L252.47,320.72 L252.83,319.24 L253.20,318.00 L253.48,317.13 L253.77,316.22 L254.05,315.38 L254.33,314.67 L254.62,314.18 L254.90,314.00 L255.10,314.17 L255.30,314.62 L255.50,315.28 L255.70,316.05 L255.90,316.85 L256.10,317.60 L256.33,318.50 L256.57,319.51 L256.80,320.58 L257.03,321.65 L257.27,322.64 L257.50,323.50 L257.87,324.70 L258.23,325.86 L258.60,326.94 L258.97,327.90 L259.33,328.70 L259.70,329.30 L260.43,330.22 L261.17,331.02 L261.90,331.70 L262.63,332.24 L263.37,332.65 L264.10,332.90 L264.95,333.07 L265.80,333.20 L266.65,333.29 L267.50,333.38 L268.35,333.47 L269.20,333.60 L269.72,333.70 L270.23,333.80 L270.75,333.92 L271.27,334.04 L271.78,334.17 L272.30,334.30 L273.50,334.61 L274.70,334.93 L275.90,335.27 L277.10,335.64 L278.30,336.04 L279.50,336.50 L280.72,337.04 L281.93,337.68 L283.15,338.40 L284.37,339.17 L285.58,339.98 L286.80,340.80 L288.02,341.69 L289.23,342.66 L290.45,343.69 L291.67,344.72 L292.88,345.71 L294.10,346.60 L295.32,347.48 L296.53,348.39 L297.75,349.27 L298.97,350.05 L300.18,350.65 L301.40,351.00 L302.60,351.19 L303.80,351.36 L305.00,351.50 L306.20,351.61 L307.40,351.68 L308.60,351.70 L309.82,351.70 L311.03,351.69 L312.25,351.67 L313.47,351.65 L314.68,351.63 L315.90,351.60 L317.12,351.56 L318.33,351.48 L319.55,351.39 L320.77,351.27 L321.98,351.14 L323.20,351.00 L324.42,350.85 L325.63,350.67 L326.85,350.45 L328.07,350.19 L329.28,349.88 L330.50,349.50 L331.25,349.14 L332.00,348.62 L332.75,347.99 L333.50,347.31 L334.25,346.62 L335.00,346.00 L335.97,345.28 L336.93,344.59 L337.90,343.90 L338.87,343.19 L339.83,342.43 L340.80,341.60 L341.77,340.64 L342.73,339.56 L343.70,338.40 L344.67,337.24 L345.63,336.12 L346.60,335.10 L347.58,334.13 L348.57,333.18 L349.55,332.25 L350.53,331.40 L351.52,330.64 L352.50,330.00 L353.22,329.59 L353.93,329.20 L354.65,328.84 L355.37,328.53 L356.08,328.28 L356.80,328.10 L357.65,327.96 L358.50,327.87 L359.35,327.79 L360.20,327.72 L361.05,327.63 L361.90,327.50 L362.50,327.39 L363.10,327.25 L363.70,327.09 L364.30,326.90 L364.90,326.67 L365.50,326.40 L366.12,325.98 L366.73,325.37 L367.35,324.61 L367.97,323.76 L368.58,322.87 L369.20,322.00 L369.80,321.08 L370.40,320.04 L371.00,318.94 L371.60,317.88 L372.20,316.94 L372.80,316.20 L373.28,315.70 L373.77,315.19 L374.25,314.73 L374.73,314.35 L375.22,314.09 L375.70,314.00 L376.18,314.02 L376.67,314.06 L377.15,314.12 L377.63,314.20 L378.12,314.30 L378.60,314.40 L379.22,314.63 L379.83,315.00 L380.45,315.45 L381.07,315.90 L381.68,316.27 L382.30,316.50 L382.78,316.60 L383.27,316.70 L383.75,316.78 L384.23,316.84 L384.72,316.88 L385.20,316.90 L385.80,316.80 L386.40,316.54 L387.00,316.16 L387.60,315.69 L388.20,315.19 L388.80,314.70 L389.53,314.06 L390.27,313.31 L391.00,312.47 L391.73,311.56 L392.47,310.60 L393.20,309.60 L393.92,308.55 L394.63,307.38 L395.35,306.14 L396.07,304.87 L396.78,303.61 L397.50,302.40 L398.30,301.12 L399.10,299.88 L399.90,298.66 L400.70,297.40 L401.50,296.10 L402.30,294.70 L403.32,292.79 L404.33,290.75 L405.35,288.61 L406.37,286.40 L407.38,284.12 L408.40,281.80 L409.37,279.51 L410.33,277.11 L411.30,274.64 L412.27,272.15 L413.23,269.69 L414.20,267.30 L415.17,264.94 L416.13,262.57 L417.10,260.22 L418.07,257.94 L419.03,255.75 L420.00,253.70 L420.80,252.06 L421.60,250.42 L422.40,248.84 L423.20,247.38 L424.00,246.08 L424.80,245.00 L425.45,244.24 L426.10,243.51 L426.75,242.85 L427.40,242.27 L428.05,241.81 L428.70,241.50 L429.28,241.29 L429.87,241.11 L430.45,240.94 L431.03,240.81 L431.62,240.73 L432.20,240.70 L432.75,240.75 L433.30,240.90 L433.85,241.13 L434.40,241.42 L434.95,241.75 L435.50,242.10 L436.15,242.66 L436.80,243.46 L437.45,244.44 L438.10,245.54 L438.75,246.71 L439.40,247.90 L440.03,249.12 L440.67,250.47 L441.30,251.93 L441.93,253.45 L442.57,255.02 L443.20,256.60 L443.77,258.03 L444.33,259.51 L444.90,261.03 L445.47,262.59 L446.03,264.18 L446.60,265.80 L447.22,267.64 L447.83,269.57 L448.45,271.55 L449.07,273.51 L449.68,275.41 L450.30,277.20 L450.93,278.91 L451.57,280.54 L452.20,282.12 L452.83,283.67 L453.47,285.23 L454.10,286.80 L454.85,288.71 L455.60,290.64 L456.35,292.57 L457.10,294.47 L457.85,296.33 L458.60,298.10 L459.72,300.64 L460.83,303.13 L461.95,305.53 L463.07,307.86 L464.18,310.08 L465.30,312.20 L466.42,314.22 L467.53,316.18 L468.65,318.06 L469.77,319.85 L470.88,321.57 L472.00,323.20 L473.13,324.79 L474.27,326.32 L475.40,327.79 L476.53,329.18 L477.67,330.49 L478.80,331.70 L479.93,332.84 L481.07,333.92 L482.20,334.94 L483.33,335.90 L484.47,336.79 L485.60,337.60 L486.73,338.35 L487.87,339.06 L489.00,339.72 L490.13,340.33 L491.27,340.89 L492.40,341.40 L493.53,341.86 L494.67,342.30 L495.80,342.70 L496.93,343.07 L498.07,343.40 L499.20,343.70 L500.32,343.98 L501.43,344.24 L502.55,344.49 L503.67,344.71 L504.78,344.88 L505.90,345.00 L507.32,345.11 L508.73,345.20 L510.15,345.28 L511.57,345.35 L512.98,345.39 L514.40,345.40 L515.82,345.37 L517.23,345.28 L518.65,345.16 L520.07,345.03 L521.48,344.90 L522.90,344.80 L524.46,344.71 L526.02,344.62 L527.58,344.53 L529.13,344.45 L530.69,344.37 L532.25,344.30" fill="none" stroke="#111" stroke-width="1.2" stroke-dasharray="2.4 1.2" stroke-linejoin="round"/>
<path d="M61.2,20.5 H90" stroke="#111" stroke-width="1.15"/>
<path d="M61.2,32.7 H89" stroke="#111" stroke-width="1.15" stroke-dasharray="2.9 1.2"/>
<text x="95.8" y="24.8" font-size="12.5" textLength="145" lengthAdjust="spacingAndGlyphs">Pressure: 0.60 ± 0.07 GPa</text>
<text x="95.8" y="37.5" font-size="12.5" textLength="130.5" lengthAdjust="spacingAndGlyphs">Pressure: 1.4 ± 0.2 GPa</text>
<text x="365.5" y="106.1" font-size="14.9" textLength="128" lengthAdjust="spacingAndGlyphs">Exposure time: 60 s</text>
<text x="365.5" y="123.5" font-size="14.9" textLength="131.4" lengthAdjust="spacingAndGlyphs">Objective Lens: ×50</text>
<text x="365.5" y="141.0" font-size="14.9" textLength="152.7" lengthAdjust="spacingAndGlyphs">Numerical aperture: 0.5</text>
<text x="405.5" y="180.9" font-size="10.1" textLength="44.5" lengthAdjust="spacingAndGlyphs">Q<tspan font-size="7.8" dy="-4.8">3</tspan><tspan dy="4.8"> mode</tspan></text>
<text x="405.8" y="191.6" font-size="10.1" textLength="62.7" lengthAdjust="spacingAndGlyphs">at 1096 cm<tspan font-size="7.8" dy="-4.8">-1</tspan></text>
<path d="M428.70,194.50 L428.70,219.80 M426.55,213.88 L428.70,219.80 L430.85,213.88" fill="none" stroke="#111" stroke-width="1.0" stroke-linejoin="miter"/>
<rect x="123.00" y="53.60" width="219.75" height="163.60" fill="#ffffff" stroke="#111" stroke-width="1.2"/>
<path d="M127.39,217.2 v-2.4 M127.39,53.6 v2.4 M131.79,217.2 v-2.4 M131.79,53.6 v2.4 M136.19,217.2 v-2.4 M136.19,53.6 v2.4 M140.58,217.2 v-2.4 M140.58,53.6 v2.4 M144.97,217.2 v-4.0 M144.97,53.6 v4.0 M149.37,217.2 v-2.4 M149.37,53.6 v2.4 M153.76,217.2 v-2.4 M153.76,53.6 v2.4 M158.16,217.2 v-2.4 M158.16,53.6 v2.4 M162.56,217.2 v-2.4 M162.56,53.6 v2.4 M166.95,217.2 v-4.0 M166.95,53.6 v4.0 M171.34,217.2 v-2.4 M171.34,53.6 v2.4 M175.74,217.2 v-2.4 M175.74,53.6 v2.4 M180.13,217.2 v-2.4 M180.13,53.6 v2.4 M184.53,217.2 v-2.4 M184.53,53.6 v2.4 M188.93,217.2 v-4.0 M188.93,53.6 v4.0 M193.32,217.2 v-2.4 M193.32,53.6 v2.4 M197.71,217.2 v-2.4 M197.71,53.6 v2.4 M202.11,217.2 v-2.4 M202.11,53.6 v2.4 M206.50,217.2 v-2.4 M206.50,53.6 v2.4 M210.90,217.2 v-4.0 M210.90,53.6 v4.0 M215.29,217.2 v-2.4 M215.29,53.6 v2.4 M219.69,217.2 v-2.4 M219.69,53.6 v2.4 M224.08,217.2 v-2.4 M224.08,53.6 v2.4 M228.48,217.2 v-2.4 M228.48,53.6 v2.4 M232.88,217.2 v-4.0 M232.88,53.6 v4.0 M237.27,217.2 v-2.4 M237.27,53.6 v2.4 M241.66,217.2 v-2.4 M241.66,53.6 v2.4 M246.06,217.2 v-2.4 M246.06,53.6 v2.4 M250.45,217.2 v-2.4 M250.45,53.6 v2.4 M254.85,217.2 v-4.0 M254.85,53.6 v4.0 M259.25,217.2 v-2.4 M259.25,53.6 v2.4 M263.64,217.2 v-2.4 M263.64,53.6 v2.4 M268.03,217.2 v-2.4 M268.03,53.6 v2.4 M272.43,217.2 v-2.4 M272.43,53.6 v2.4 M276.82,217.2 v-4.0 M276.82,53.6 v4.0 M281.22,217.2 v-2.4 M281.22,53.6 v2.4 M285.62,217.2 v-2.4 M285.62,53.6 v2.4 M290.01,217.2 v-2.4 M290.01,53.6 v2.4 M294.40,217.2 v-2.4 M294.40,53.6 v2.4 M298.80,217.2 v-4.0 M298.80,53.6 v4.0 M303.19,217.2 v-2.4 M303.19,53.6 v2.4 M307.59,217.2 v-2.4 M307.59,53.6 v2.4 M311.99,217.2 v-2.4 M311.99,53.6 v2.4 M316.38,217.2 v-2.4 M316.38,53.6 v2.4 M320.77,217.2 v-4.0 M320.77,53.6 v4.0 M325.17,217.2 v-2.4 M325.17,53.6 v2.4 M329.56,217.2 v-2.4 M329.56,53.6 v2.4 M333.96,217.2 v-2.4 M333.96,53.6 v2.4 M338.36,217.2 v-2.4 M338.36,53.6 v2.4 M123.00,213.90 h4.5 M342.75,213.90 h-4.5 M123.00,204.45 h2.3 M342.75,204.45 h-2.3 M123.00,195.00 h4.5 M342.75,195.00 h-4.5 M123.00,185.55 h2.3 M342.75,185.55 h-2.3 M123.00,176.10 h4.5 M342.75,176.10 h-4.5 M123.00,166.65 h2.3 M342.75,166.65 h-2.3 M123.00,157.20 h4.5 M342.75,157.20 h-4.5 M123.00,147.75 h2.3 M342.75,147.75 h-2.3 M123.00,138.30 h4.5 M342.75,138.30 h-4.5 M123.00,128.85 h2.3 M342.75,128.85 h-2.3 M123.00,119.40 h4.5 M342.75,119.40 h-4.5 M123.00,109.95 h2.3 M342.75,109.95 h-2.3 M123.00,100.50 h4.5 M342.75,100.50 h-4.5 M123.00,91.05 h2.3 M342.75,91.05 h-2.3 M123.00,81.60 h4.5 M342.75,81.60 h-4.5 M123.00,72.15 h2.3 M342.75,72.15 h-2.3 M123.00,62.70 h4.5 M342.75,62.70 h-4.5" stroke="#111" stroke-width="1" fill="none"/>
<g font-size="6.7" fill="#222" class="il">
<text x="123.90" y="230.6" text-anchor="middle" textLength="11.0" lengthAdjust="spacingAndGlyphs">410</text>
<text x="145.88" y="230.6" text-anchor="middle" textLength="11.0" lengthAdjust="spacingAndGlyphs">415</text>
<text x="167.85" y="230.6" text-anchor="middle" textLength="11.8" lengthAdjust="spacingAndGlyphs">420</text>
<text x="189.83" y="230.6" text-anchor="middle" textLength="11.8" lengthAdjust="spacingAndGlyphs">425</text>
<text x="211.80" y="230.6" text-anchor="middle" textLength="11.8" lengthAdjust="spacingAndGlyphs">430</text>
<text x="233.78" y="230.6" text-anchor="middle" textLength="11.8" lengthAdjust="spacingAndGlyphs">435</text>
<text x="255.75" y="230.6" text-anchor="middle" textLength="11.8" lengthAdjust="spacingAndGlyphs">440</text>
<text x="277.72" y="230.6" text-anchor="middle" textLength="11.8" lengthAdjust="spacingAndGlyphs">445</text>
<text x="299.70" y="230.6" text-anchor="middle" textLength="11.8" lengthAdjust="spacingAndGlyphs">450</text>
<text x="321.67" y="230.6" text-anchor="middle" textLength="11.8" lengthAdjust="spacingAndGlyphs">455</text>
<text x="343.65" y="230.6" text-anchor="middle" textLength="11.8" lengthAdjust="spacingAndGlyphs">460</text>
<text x="118.2" y="216.30" text-anchor="end" textLength="9.7" lengthAdjust="spacingAndGlyphs">0.2</text>
<text x="118.2" y="197.40" text-anchor="end" textLength="9.7" lengthAdjust="spacingAndGlyphs">0.3</text>
<text x="118.2" y="178.50" text-anchor="end" textLength="9.7" lengthAdjust="spacingAndGlyphs">0.4</text>
<text x="118.2" y="159.60" text-anchor="end" textLength="9.7" lengthAdjust="spacingAndGlyphs">0.5</text>
<text x="118.2" y="140.70" text-anchor="end" textLength="9.7" lengthAdjust="spacingAndGlyphs">0.6</text>
<text x="118.2" y="121.80" text-anchor="end" textLength="9.7" lengthAdjust="spacingAndGlyphs">0.7</text>
<text x="118.2" y="102.90" text-anchor="end" textLength="9.7" lengthAdjust="spacingAndGlyphs">0.8</text>
<text x="118.2" y="84.00" text-anchor="end" textLength="9.7" lengthAdjust="spacingAndGlyphs">0.9</text>
<text x="118.2" y="65.10" text-anchor="end" textLength="3.0" lengthAdjust="spacingAndGlyphs">1</text>
</g>
<path d="M123.50,204.90 L124.22,204.21 L124.93,203.41 L125.65,202.51 L126.37,201.51 L127.08,200.44 L127.80,199.30 L128.62,197.87 L129.43,196.27 L130.25,194.51 L131.07,192.60 L131.88,190.56 L132.70,188.40 L133.30,186.71 L133.90,184.89 L134.50,182.93 L135.10,180.85 L135.70,178.64 L136.30,176.30 L136.92,173.74 L137.53,170.98 L138.15,168.03 L138.77,164.88 L139.38,161.54 L140.00,158.00 L140.40,155.56 L140.80,152.95 L141.20,150.19 L141.60,147.28 L142.00,144.21 L142.40,141.00 L142.80,137.48 L143.20,133.59 L143.60,129.50 L144.00,125.36 L144.40,121.34 L144.80,117.60 L145.40,112.38 L146.00,107.35 L146.60,102.48 L147.20,97.75 L147.80,93.14 L148.40,88.60 L148.80,85.56 L149.20,82.48 L149.60,79.47 L150.00,76.59 L150.40,73.94 L150.80,71.60 L151.10,69.95 L151.40,68.31 L151.70,66.76 L152.00,65.40 L152.30,64.32 L152.60,63.60 L152.80,63.27 L153.00,62.97 L153.20,62.70 L153.40,62.49 L153.60,62.35 L153.80,62.30 L154.07,62.37 L154.33,62.56 L154.60,62.85 L154.87,63.21 L155.13,63.60 L155.40,64.00 L155.85,64.82 L156.30,65.90 L156.75,67.18 L157.20,68.59 L157.65,70.09 L158.10,71.60 L158.50,73.00 L158.90,74.51 L159.30,76.12 L159.70,77.81 L160.10,79.54 L160.50,81.30 L160.83,82.75 L161.17,84.20 L161.50,85.70 L161.83,87.29 L162.17,89.04 L162.50,91.00 L162.78,92.92 L163.07,95.10 L163.35,97.50 L163.63,100.07 L163.92,102.75 L164.20,105.50 L164.48,108.42 L164.77,111.60 L165.05,114.93 L165.33,118.33 L165.62,121.68 L165.90,124.90 L166.18,127.97 L166.47,130.96 L166.75,133.92 L167.03,136.88 L167.32,139.89 L167.60,143.00 L167.83,145.73 L168.07,148.64 L168.30,151.58 L168.53,154.44 L168.77,157.09 L169.00,159.40 L169.40,162.86 L169.80,166.07 L170.20,169.01 L170.60,171.69 L171.00,174.12 L171.40,176.30 L172.02,179.38 L172.63,182.26 L173.25,184.89 L173.87,187.22 L174.48,189.21 L175.10,190.80 L175.90,192.50 L176.70,194.01 L177.50,195.34 L178.30,196.47 L179.10,197.39 L179.90,198.10 L180.70,198.70 L181.50,199.26 L182.30,199.75 L183.10,200.15 L183.90,200.41 L184.70,200.50 L185.52,200.50 L186.33,200.50 L187.15,200.50 L187.97,200.50 L188.78,200.50 L189.60,200.50 L190.40,200.43 L191.20,200.23 L192.00,199.93 L192.80,199.58 L193.60,199.19 L194.40,198.80 L195.62,198.10 L196.83,197.21 L198.05,196.21 L199.27,195.17 L200.48,194.17 L201.70,193.30 L202.70,192.64 L203.70,191.97 L204.70,191.32 L205.70,190.74 L206.70,190.25 L207.70,189.90 L208.32,189.73 L208.93,189.57 L209.55,189.42 L210.17,189.31 L210.78,189.23 L211.40,189.20 L212.20,189.25 L213.00,189.39 L213.80,189.60 L214.60,189.85 L215.40,190.12 L216.20,190.40 L217.42,190.89 L218.63,191.53 L219.85,192.25 L221.07,193.02 L222.28,193.78 L223.50,194.50 L224.58,195.08 L225.67,195.62 L226.75,196.17 L227.83,196.74 L228.92,197.38 L230.00,198.10 L230.38,198.41 L230.77,198.77 L231.15,199.16 L231.53,199.54 L231.92,199.90 L232.30,200.20 L233.50,201.00 L234.70,201.74 L235.90,202.40 L237.10,202.99 L238.30,203.49 L239.50,203.90 L241.12,204.39 L242.73,204.85 L244.35,205.26 L245.97,205.60 L247.58,205.82 L249.20,205.90 L251.22,205.88 L253.23,205.83 L255.25,205.75 L257.27,205.64 L259.28,205.53 L261.30,205.40 L262.92,205.27 L264.53,205.08 L266.15,204.86 L267.77,204.63 L269.38,204.40 L271.00,204.20 L272.22,204.08 L273.43,203.97 L274.65,203.87 L275.87,203.76 L277.08,203.60 L278.30,203.40 L279.10,203.13 L279.90,202.68 L280.70,202.12 L281.50,201.52 L282.30,200.96 L283.10,200.50 L284.12,200.01 L285.13,199.52 L286.15,199.07 L287.17,198.67 L288.18,198.34 L289.20,198.10 L290.20,197.92 L291.20,197.76 L292.20,197.62 L293.20,197.50 L294.20,197.43 L295.20,197.40 L296.42,197.45 L297.63,197.60 L298.85,197.82 L300.07,198.07 L301.28,198.34 L302.50,198.60 L303.70,198.88 L304.90,199.21 L306.10,199.57 L307.30,199.92 L308.50,200.24 L309.70,200.50 L310.92,200.73 L312.13,200.95 L313.35,201.16 L314.57,201.34 L315.78,201.46 L317.00,201.50 L318.62,201.49 L320.23,201.47 L321.85,201.44 L323.47,201.40 L325.08,201.35 L326.70,201.30 L328.32,201.20 L329.93,201.05 L331.55,200.86 L333.17,200.68 L334.78,200.55 L336.40,200.50 L337.48,200.52 L338.57,200.56 L339.65,200.64 L340.73,200.73 L341.82,200.86 L342.90,201.00" fill="none" stroke="#111" stroke-width="1.15" stroke-linejoin="round"/>
<path d="M123.50,211.40 L124.43,211.13 L125.37,210.80 L126.30,210.41 L127.23,209.98 L128.17,209.51 L129.10,209.00 L130.10,208.42 L131.10,207.77 L132.10,207.05 L133.10,206.22 L134.10,205.28 L135.10,204.20 L135.92,203.10 L136.73,201.72 L137.55,200.12 L138.37,198.35 L139.18,196.46 L140.00,194.50 L140.60,192.99 L141.20,191.37 L141.80,189.62 L142.40,187.75 L143.00,185.74 L143.60,183.60 L144.20,181.25 L144.80,178.65 L145.40,175.84 L146.00,172.87 L146.60,169.78 L147.20,166.60 L147.60,164.37 L148.00,162.00 L148.40,159.54 L148.80,157.04 L149.20,154.54 L149.60,152.10 L149.88,150.45 L150.17,148.85 L150.45,147.26 L150.73,145.62 L151.02,143.89 L151.30,142.00 L151.63,139.55 L151.97,136.87 L152.30,134.01 L152.63,131.03 L152.97,127.98 L153.30,124.90 L153.70,121.07 L154.10,117.04 L154.50,112.90 L154.90,108.73 L155.30,104.63 L155.70,100.70 L156.10,96.81 L156.50,92.85 L156.90,88.96 L157.30,85.25 L157.70,81.86 L158.10,78.90 L158.50,76.22 L158.90,73.63 L159.30,71.22 L159.70,69.09 L160.10,67.32 L160.50,66.00 L160.83,65.12 L161.17,64.28 L161.50,63.54 L161.83,62.94 L162.17,62.54 L162.50,62.40 L162.98,62.55 L163.47,62.95 L163.95,63.52 L164.43,64.20 L164.92,64.92 L165.40,65.60 L165.88,66.26 L166.37,66.98 L166.85,67.75 L167.33,68.57 L167.82,69.46 L168.30,70.40 L168.70,71.19 L169.10,71.98 L169.50,72.85 L169.90,73.85 L170.30,75.04 L170.70,76.50 L170.95,77.76 L171.20,79.46 L171.45,81.49 L171.70,83.76 L171.95,86.17 L172.20,88.60 L172.47,91.39 L172.73,94.53 L173.00,97.89 L173.27,101.34 L173.53,104.75 L173.80,108.00 L174.08,111.29 L174.37,114.53 L174.65,117.74 L174.93,120.92 L175.22,124.10 L175.50,127.30 L175.72,129.71 L175.93,132.07 L176.15,134.42 L176.37,136.83 L176.58,139.34 L176.80,142.00 L177.00,144.78 L177.20,147.90 L177.40,151.13 L177.60,154.27 L177.80,157.10 L178.00,159.40 L178.40,163.11 L178.80,166.38 L179.20,169.28 L179.60,171.86 L180.00,174.18 L180.40,176.30 L180.92,178.79 L181.43,181.05 L181.95,183.10 L182.47,184.98 L182.98,186.74 L183.50,188.40 L184.12,190.31 L184.73,192.13 L185.35,193.84 L185.97,195.42 L186.58,196.85 L187.20,198.10 L187.80,199.22 L188.40,200.30 L189.00,201.30 L189.60,202.17 L190.20,202.89 L190.80,203.40 L191.60,203.92 L192.40,204.39 L193.20,204.80 L194.00,205.12 L194.80,205.33 L195.60,205.40 L196.62,205.40 L197.63,205.40 L198.65,205.40 L199.67,205.40 L200.68,205.40 L201.70,205.40 L202.70,205.31 L203.70,205.08 L204.70,204.73 L205.70,204.31 L206.70,203.86 L207.70,203.40 L208.72,202.87 L209.73,202.23 L210.75,201.51 L211.77,200.76 L212.78,200.01 L213.80,199.30 L214.60,198.75 L215.40,198.19 L216.20,197.63 L217.00,197.09 L217.80,196.61 L218.60,196.20 L219.42,195.82 L220.23,195.43 L221.05,195.07 L221.87,194.78 L222.68,194.57 L223.50,194.50 L224.30,194.50 L225.10,194.50 L225.90,194.50 L226.70,194.50 L227.50,194.50 L228.30,194.50 L229.17,194.61 L230.03,194.90 L230.90,195.32 L231.77,195.83 L232.63,196.37 L233.50,196.90 L234.50,197.56 L235.50,198.34 L236.50,199.19 L237.50,200.06 L238.50,200.92 L239.50,201.70 L240.72,202.61 L241.93,203.54 L243.15,204.44 L244.37,205.28 L245.58,206.01 L246.80,206.60 L248.02,207.09 L249.23,207.55 L250.45,207.97 L251.67,208.32 L252.88,208.61 L254.10,208.80 L255.70,208.99 L257.30,209.15 L258.90,209.29 L260.50,209.40 L262.10,209.47 L263.70,209.50 L265.32,209.49 L266.93,209.46 L268.55,209.41 L270.17,209.35 L271.78,209.28 L273.40,209.20 L275.02,209.08 L276.63,208.91 L278.25,208.69 L279.87,208.42 L281.48,208.12 L283.10,207.80 L284.32,207.50 L285.53,207.12 L286.75,206.69 L287.97,206.24 L289.18,205.80 L290.40,205.40 L291.60,205.02 L292.80,204.62 L294.00,204.22 L295.20,203.87 L296.40,203.58 L297.60,203.40 L298.62,203.30 L299.63,203.20 L300.65,203.12 L301.67,203.06 L302.68,203.01 L303.70,203.00 L304.70,203.03 L305.70,203.11 L306.70,203.23 L307.70,203.38 L308.70,203.54 L309.70,203.70 L310.92,203.94 L312.13,204.25 L313.35,204.59 L314.57,204.93 L315.78,205.21 L317.00,205.40 L318.22,205.53 L319.43,205.64 L320.65,205.75 L321.87,205.83 L323.08,205.88 L324.30,205.90 L325.92,205.88 L327.53,205.81 L329.15,205.72 L330.77,205.61 L332.38,205.50 L334.00,205.40 L335.48,205.32 L336.97,205.24 L338.45,205.16 L339.93,205.07 L341.42,204.99 L342.90,204.90" fill="none" stroke="#111" stroke-width="1.1" stroke-dasharray="2.6 1.3" stroke-linejoin="round"/>
<text x="171.4" y="67.5" font-size="11.2" textLength="162.2" lengthAdjust="spacingAndGlyphs">Zoom of A<tspan font-size="7.6" dy="2.4">1g</tspan><tspan dy="-2.4"> and E</tspan><tspan font-size="7.6" dy="2.4">g</tspan><tspan dy="-2.4"> modes shifts</tspan></text>
<text x="198" y="82.9" font-size="11.2" textLength="124" lengthAdjust="spacingAndGlyphs">at 417,430 and 450 cm<tspan font-size="9.4" dy="-5.6">-1</tspan></text>
<path d="M228.10,87.30 L178.10,117.80 M182.57,111.78 L178.10,117.80 L185.50,116.58" fill="none" stroke="#111" stroke-width="1.0" stroke-linejoin="miter"/>
<path d="M246.40,86.40 L224.60,184.70 M223.36,177.30 L224.60,184.70 L228.85,178.52" fill="none" stroke="#111" stroke-width="1.0" stroke-linejoin="miter"/>
<path d="M280.20,86.00 L298.10,194.50 M294.20,188.10 L298.10,194.50 L299.74,187.18" fill="none" stroke="#111" stroke-width="1.0" stroke-linejoin="miter"/>
</svg>
</body></html>
